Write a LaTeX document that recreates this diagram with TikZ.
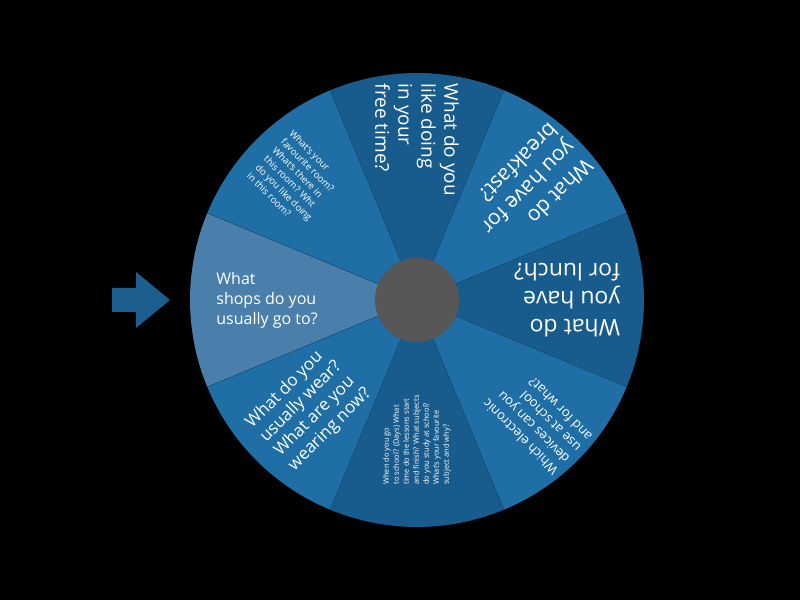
\documentclass[tikz,border=0pt]{standalone}
\usepackage{fontspec}
\setmainfont{Open Sans}
\usepackage{xcolor}
\definecolor{segA}{HTML}{1F6FA6}
\definecolor{segB}{HTML}{175C8C}
\definecolor{segC}{HTML}{4A7FAB}
\definecolor{hubgray}{HTML}{575757}
\definecolor{rimline}{HTML}{16496C}
\definecolor{arrowblue}{HTML}{1C5E8E}

\tikzset{
  question/.style 2 args={text=white, align=left, inner sep=0pt, font=\fontsize{#1}{#2}\selectfont}
}

\begin{document}
\begin{tikzpicture}[x=1pt,y=1pt]

    \fill[black] (0,0) rectangle (800,600);
    \coordinate (c) at (417,300);

    % wheel segments
    \foreach \a/\col in {180/segC,135/segA,90/segB,45/segA,0/segB,-45/segA,-90/segB,-135/segA}
        \fill[\col] (c) -- ++(\a-22.5:227) arc[start angle=\a-22.5, end angle=\a+22.5, radius=227] -- cycle;
    \foreach \a in {22.5,67.5,...,337.5}
        \draw[rimline, thin] (c) -- ++(\a:227);

    \fill[hubgray] (c) circle (42);

    % questions
    \node[question={16}{20}, rotate=0] (shops) at ([shift={(180:150)}]c) {What\\shops do you\\usually go to?};
    \node[question={9.5}{12}, rotate=-45] (room) at ([shift={(135:170)}]c) {What's your\\favourite room?\\What's there in\\this room? Wht\\do you like doing\\in this room?};
    \node[question={19}{23}, rotate=-90] (free) at ([shift={(90:160)}]c) {What do you\\like doing\\in your\\free time?};
    \node[question={21}{25}, rotate=-135] (breakfast) at ([shift={(45:158)}]c) {What do\\you have for\\breakfast?};
    \node[question={23}{28}, rotate=180] (lunch) at ([shift={(0:150)}]c) {What do\\you have\\for lunch?};
    \node[question={13}{16}, rotate=135] (devices) at ([shift={(-45:170)}]c) {Which electronic\\devices can you\\use at school\\and for what?};
    \node[question={7.5}{10}, rotate=90] (school) at ([shift={(-90:140)}]c) {When do you go\\to school? (Days) What\\time do the lessons start\\and finish? What subjects\\do you study at school?\\What's your favourite\\subject and why?};
    \node[question={17}{20}, rotate=45] (wear) at ([shift={(-135:153)}]c) {What do you\\usually wear?\\What are you\\wearing now?};

    % pointer
    \fill[arrowblue] (112,288) -- (136,288) -- (136,272) -- (170,300) -- (136,328) -- (136,312) -- (112,312) -- cycle;

\end{tikzpicture}
\end{document}
